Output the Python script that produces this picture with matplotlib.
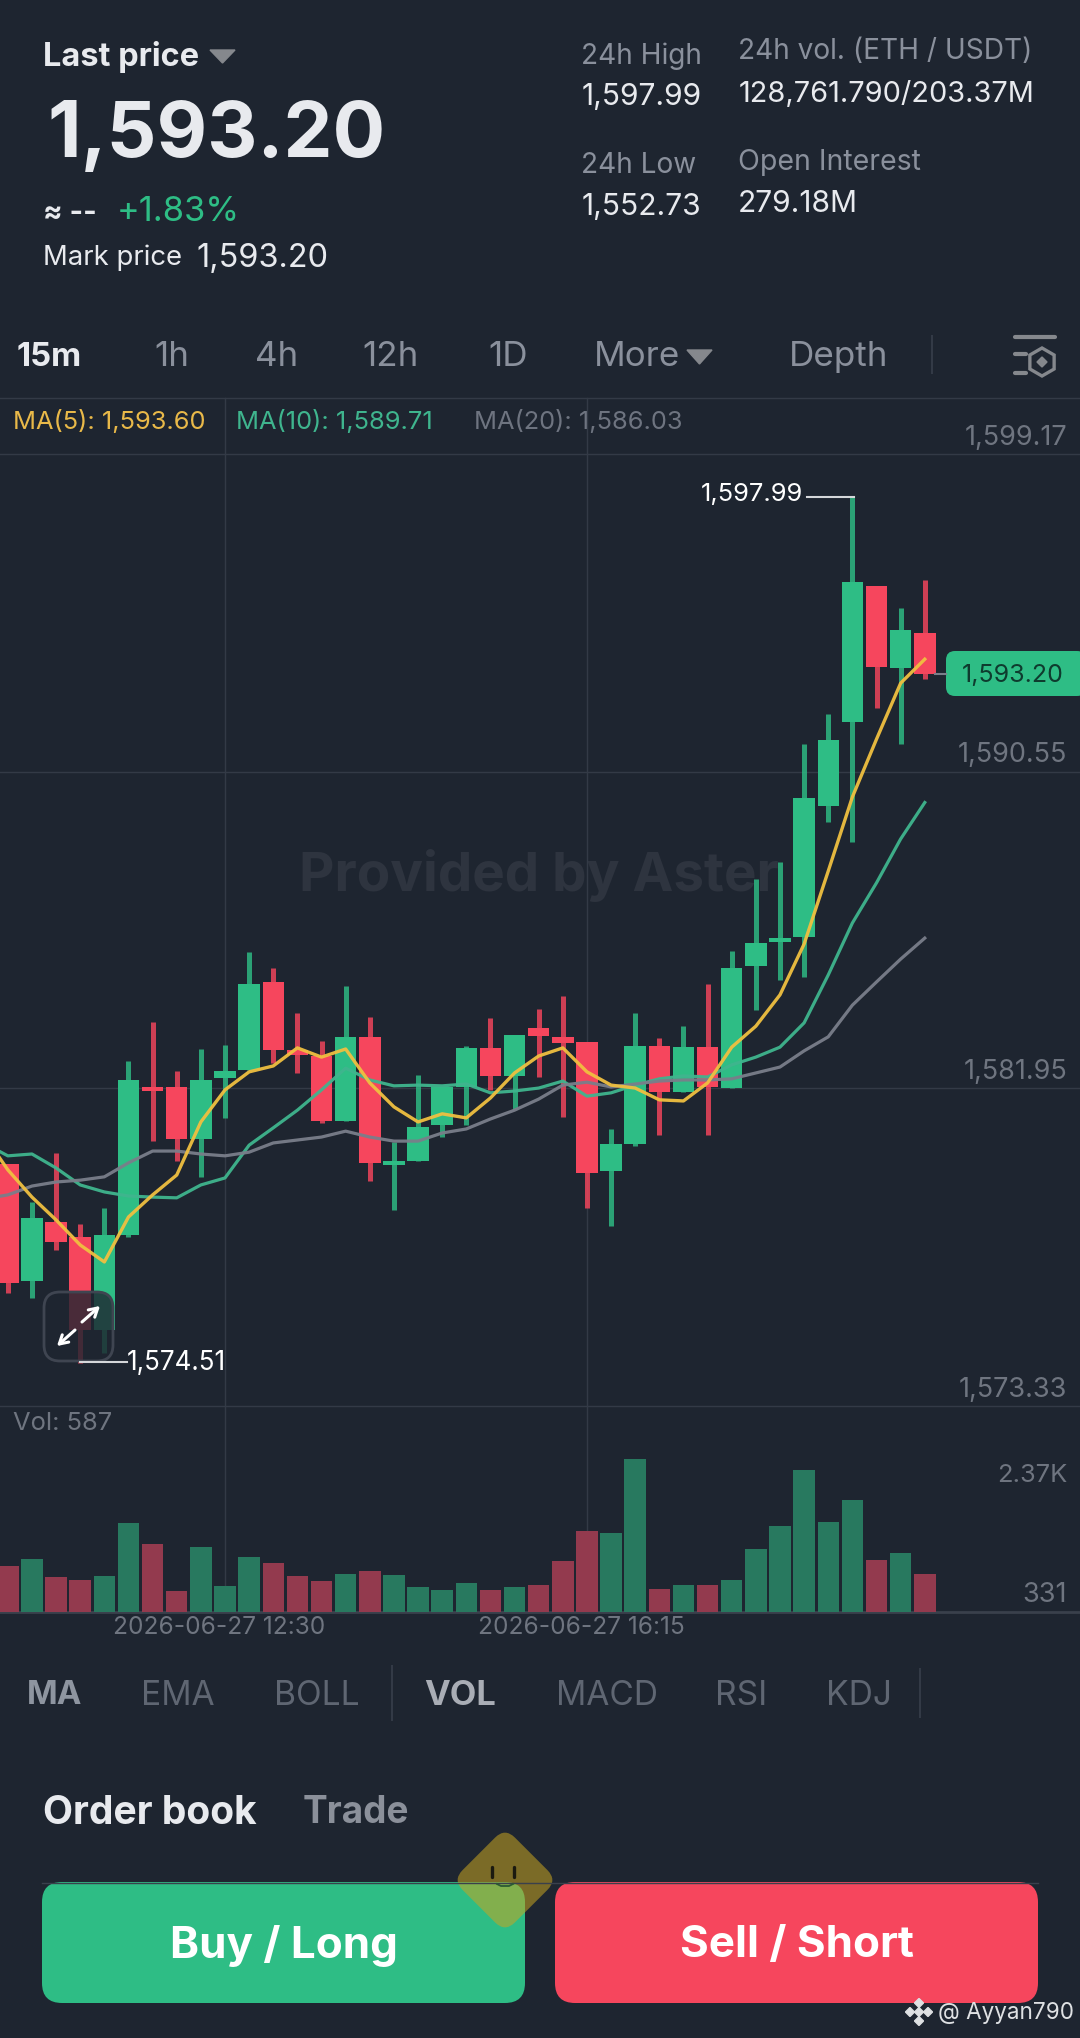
import matplotlib
matplotlib.use('Agg')
import matplotlib.pyplot as plt
from matplotlib.patches import FancyBboxPatch, Polygon, RegularPolygon
from matplotlib.transforms import Affine2D
import numpy as np

plt.rcParams['font.family'] = ['Inter', 'DejaVu Sans']

# candles, index 9 = 12:30 and index 24 = 16:15
opens = [1579.90, 1576.72, 1578.32, 1577.92, 1575.39, 1577.97, 1581.99, 1581.99, 1580.58, 1582.23,
         1582.45, 1584.84, 1582.99, 1582.83, 1581.07, 1583.35, 1579.87, 1579.98, 1580.96, 1581.99,
         1583.05, 1582.29, 1583.59, 1583.35, 1583.21, 1579.71, 1580.44, 1583.10, 1581.85, 1583.07,
         1581.96, 1585.27, 1585.92, 1586.06, 1589.62, 1591.90, 1595.59, 1593.36, 1594.31]
highs = [1579.90, 1578.87, 1580.20, 1578.27, 1578.70, 1582.69, 1583.75, 1582.42, 1583.02, 1583.13,
         1585.65, 1585.22, 1584.00, 1583.24, 1584.73, 1583.89, 1580.50, 1582.31, 1581.99, 1583.10,
         1583.86, 1583.40, 1584.11, 1584.46, 1583.21, 1580.85, 1584.00, 1583.32, 1583.64, 1584.78,
         1585.68, 1587.63, 1588.10, 1591.30, 1592.11, 1597.99, 1595.59, 1594.99, 1595.75]
lows = [1576.40, 1576.26, 1577.56, 1574.51, 1574.77, 1577.92, 1580.52, 1579.98, 1579.55, 1581.15,
        1582.45, 1582.64, 1582.37, 1581.01, 1581.07, 1579.44, 1578.65, 1579.98, 1580.63, 1580.96,
        1581.91, 1581.39, 1582.26, 1581.17, 1578.70, 1578.22, 1580.39, 1580.69, 1581.85, 1580.69,
        1581.96, 1584.08, 1584.89, 1584.97, 1589.18, 1588.64, 1592.28, 1591.30, 1593.06]
closes = [1576.67, 1578.43, 1577.78, 1575.39, 1577.97, 1582.18, 1581.88, 1580.58, 1582.18, 1582.42,
          1584.78, 1582.99, 1582.86, 1581.07, 1583.35, 1579.93, 1579.98, 1580.90, 1581.99, 1583.05,
          1582.29, 1583.40, 1583.37, 1583.18, 1579.65, 1580.44, 1583.10, 1581.85, 1583.07, 1581.99,
          1585.22, 1585.90, 1586.03, 1589.83, 1591.41, 1595.70, 1593.39, 1594.39, 1593.20]
volumes = [708, 817, 538, 491, 558, 1375, 1050, 331, 1013, 408,
           848, 755, 558, 486, 584, 636, 579, 393, 336, 450,
           341, 388, 414, 791, 1261, 1230, 2370, 362, 414, 414,
           491, 982, 1329, 2197, 1401, 1742, 801, 910, 587]

# moving averages start one candle before the first visible one
ma5 = [1580.69, 1579.74, 1579.00, 1578.38, 1577.70, 1577.24, 1578.46, 1579.06, 1579.60, 1581.04, 1581.91,
       1582.40, 1582.56, 1583.05, 1582.80, 1583.02, 1582.10, 1581.45, 1581.04, 1581.26, 1581.15,
       1581.69, 1582.37, 1582.83, 1583.05, 1582.40, 1582.04, 1581.96, 1581.64, 1581.61, 1582.10,
       1583.07, 1583.64, 1584.49, 1585.87, 1587.85, 1589.86, 1591.43, 1592.95, 1593.60]
ma10 = [1580.47, 1580.12, 1580.17, 1579.79, 1579.33, 1579.14, 1579.03, 1579.00, 1578.98, 1579.33, 1579.52,
        1580.41, 1580.88, 1581.36, 1581.91, 1582.50, 1582.18, 1582.02, 1582.04, 1582.02, 1582.07,
        1581.83, 1581.88, 1581.96, 1582.15, 1581.74, 1581.83, 1582.04, 1582.21, 1582.29, 1582.26,
        1582.59, 1582.80, 1583.07, 1583.73, 1585.03, 1586.44, 1587.53, 1588.72, 1589.71]
ma20 = [1578.95, 1579.06, 1579.30, 1579.41, 1579.46, 1579.55, 1579.93, 1580.25, 1580.25, 1580.17, 1580.12,
        1580.22, 1580.47, 1580.55, 1580.63, 1580.79, 1580.63, 1580.52, 1580.52, 1580.74, 1580.85,
        1581.12, 1581.36, 1581.66, 1582.04, 1582.12, 1581.99, 1582.07, 1582.15, 1582.18, 1582.18,
        1582.21, 1582.37, 1582.53, 1582.97, 1583.35, 1584.21, 1584.84, 1585.46, 1586.03]

price_grid = [1599.17, 1590.55, 1581.95, 1573.33]
price_labels = ['1,599.17', '1,590.55', '1,581.95', '1,573.33']
time_ticks = [9, 24]
time_labels = ['2026-06-27 12:30', '2026-06-27 16:15']

BG = '#1e2530'
GREEN = '#2ebd85'
RED = '#f6465d'
GRID = '#333a46'
W, H = 1080, 2038


def pt(px):
    # alturas en pixeles a puntos (dpi 100)
    return px * 0.72


def box(top, bottom):
    return [0, 1 - bottom / H, 1, (bottom - top) / H]


fig = plt.figure(figsize=(W / 100, H / 100), dpi=100, facecolor=BG)

# capa de fondo con los textos de la interfaz, en pixeles
ui = fig.add_axes([0, 0, 1, 1], zorder=0)
ui.set_xlim(0, W)
ui.set_ylim(H, 0)
ui.axis('off')


def label(x, y, s, size, color, weight='normal', ha='left', axes=None):
    (axes or ui).text(x, y + 2, s, fontsize=pt(size), color=color, fontweight=weight, ha=ha, va='center')


LIGHT = '#e8eaee'
MUTED = '#8a909c'

label(43, 55, 'Last price', 32.5, LIGHT, 'bold')
ui.add_patch(Polygon([(210, 50), (235, 50), (222.5, 63)], color='#85888d'))
label(47, 134, '1,593.20', 78, LIGHT, 'bold')
label(43, 211, '≈ --', 29, LIGHT, 'bold')
label(117, 210, '+1.83%', 34.5, GREEN)
label(43, 256, 'Mark price', 27.5, LIGHT)
label(196, 256, '1,593.20', 32.5, LIGHT)

label(581, 54, '24h High', 28, MUTED)
label(582, 95, '1,597.99', 30, LIGHT)
label(581, 163, '24h Low', 28, MUTED)
label(582, 205, '1,552.73', 30, LIGHT)
label(738, 49, '24h vol. (ETH / USDT)', 28, MUTED)
label(739, 92, '128,761.790/203.37M', 29, LIGHT)
label(738, 160, 'Open Interest', 28.5, MUTED)
label(738, 202, '279.18M', 30, LIGHT)

# pestanas de intervalo
label(17, 355, '15m', 33, LIGHT, 'bold')
for x, s in [(154, '1h'), (255, '4h'), (362, '12h'), (488, '1D'), (594, 'More'), (789, 'Depth')]:
    label(x, 355, s, 35, MUTED)
ui.add_patch(Polygon([(687, 350), (712, 350), (699.5, 364)], color='#85888d'))
ui.plot([932, 932], [336, 373], color=GRID, lw=1.5)

# icono de ajustes
ICON = '#85888d'
ui.plot([1015, 1055], [337, 337], color=ICON, lw=3, solid_capstyle='round')
ui.plot([1015, 1026], [354, 354], color=ICON, lw=3, solid_capstyle='round')
ui.plot([1015, 1026], [373, 373], color=ICON, lw=3, solid_capstyle='round')
ui.add_patch(RegularPolygon((1042, 362), 6, radius=14, fill=False, ec=ICON, lw=2.4))
ui.add_patch(RegularPolygon((1042, 362), 4, radius=5, color=ICON))

ui.plot([0, W], [398, 398], color=GRID, lw=1)

label(13, 420, 'MA(5): 1,593.60', 25.4, '#e9b949')
label(236, 420, 'MA(10): 1,589.71', 25.4, '#3fb58e')
label(474, 420, 'MA(20): 1,586.03', 25.4, '#6e7480')

# marca de agua detras de las velas
label(539, 873, 'Provided by Aster', 54.7, '#2e343f', 'bold', ha='center')

# indicadores abajo
label(27, 1694, 'MA', 33, '#8e95a0', 'bold')
for x, s in [(141, 'EMA'), (274, 'BOLL'), (556, 'MACD'), (715, 'RSI'), (826, 'KDJ')]:
    label(x, 1694, s, 33.5, '#5f6672')
label(424, 1694, 'VOL', 34.5, '#a9adb5', 'bold')
ui.plot([392, 392], [1666, 1720], color=GRID, lw=1.5)
ui.plot([920, 920], [1669, 1717], color=GRID, lw=1.5)

label(43, 1811, 'Order book', 39, LIGHT, 'bold')
label(303, 1811, 'Trade', 37, '#8b909a', 'bold')

# panel de velas
xlim = (9 - 225 / 24.13, 9 + 855 / 24.13)
ax = fig.add_axes(box(454, 1406), zorder=1)
ax.set_xlim(xlim)
ax.set_ylim(price_grid[-1], price_grid[0])
ax.patch.set_alpha(0)
ax.axis('off')

idx = np.arange(len(opens))
opens = np.array(opens)
closes = np.array(closes)
colors = [GREEN if c >= o else RED for o, c in zip(opens, closes)]

for p in price_grid:
    ax.axhline(p, color=GRID, lw=1, zorder=1, clip_on=False)
for t in time_ticks:
    ax.axvline(t, ymin=0, ymax=1 + 56 / 952, color=GRID, lw=1, zorder=1, clip_on=False)

ax.vlines(idx, lows, highs, colors=colors, lw=pt(5), alpha=0.82, zorder=2)
ax.bar(idx, closes - opens, bottom=opens, width=21.5 / 24.13, color=colors, zorder=3)

ma_x = np.arange(-1, len(opens))
ax.plot(ma_x, ma10, color='#3fb58e', lw=2.3, alpha=0.95, zorder=4)
ax.plot(ma_x, ma20, color='#7a7e8a', lw=2.3, alpha=0.95, zorder=5)
ax.plot(ma_x, ma5, color='#f0c040', lw=2.4, alpha=0.95, zorder=6)

# panel de volumen
vol = fig.add_axes(box(1406, 1612), zorder=1)
vol.set_xlim(xlim)
vol.set_ylim(0, 206 * 15.51)
vol.patch.set_alpha(0)
vol.axis('off')
vol_colors = ['#28795f' if c == GREEN else '#933a4e' for c in colors]
for t in time_ticks:
    vol.axvline(t, color=GRID, lw=1, zorder=1)
vol.bar(idx, volumes, width=21.5 / 24.13, color=vol_colors, zorder=3)
vol.axhline(0, color='#3a404c', lw=2, zorder=2, clip_on=False)

for t, s in zip(time_ticks, time_labels):
    vol.annotate(s, xy=(t, 0), xytext=(-4.3, -11.5), textcoords='offset points', ha='center', va='center',
                 fontsize=pt(24.5), color='#6f7580', annotation_clip=False)

# capa superior: etiquetas de precio, boton de zoom, botones
top = fig.add_axes([0, 0, 1, 1], zorder=2)
top.set_xlim(0, W)
top.set_ylim(H, 0)
top.axis('off')
top.patch.set_alpha(0)

for y, s in zip([436, 753, 1070, 1388], price_labels):
    label(1067, y, s, 27, '#6f7580', ha='right', axes=top)
label(1067, 1473, '2.37K', 25.5, '#6f7580', ha='right', axes=top)
label(1067, 1593, '331', 27, '#6f7580', ha='right', axes=top)
label(13, 1421, 'Vol: 587', 25.5, '#6f7580', axes=top)

label(803, 492, '1,597.99', 25.5, 'white', ha='right', axes=top)
top.plot([807, 854], [497, 497], color='#d5d7da', lw=1.5)
label(127, 1361, '1,574.51', 26, 'white', axes=top)
top.plot([80, 127], [1362, 1362], color='#d5d7da', lw=1.5)

top.plot([935, 946], [674, 674], color='#7a7e8a', lw=1.5)
top.add_patch(FancyBboxPatch((946, 651), 140, 45, boxstyle='round,pad=0,rounding_size=9', fc=GREEN, ec='none'))
label(962, 673, '1,593.20', 25, '#0e3b2e', axes=top)

top.add_patch(FancyBboxPatch((44, 1292), 69, 69, boxstyle='round,pad=0,rounding_size=16',
                             fc=BG, alpha=0.8, ec='none'))
top.add_patch(FancyBboxPatch((44, 1292), 69, 69, boxstyle='round,pad=0,rounding_size=16',
                             fc='none', ec='#3f4551', lw=2))
top.annotate('', xy=(100, 1306), xytext=(82, 1322),
             arrowprops=dict(arrowstyle='->,head_length=0.6,head_width=0.35', color='white', lw=2.2, shrinkA=0, shrinkB=0))
top.annotate('', xy=(57, 1346), xytext=(75, 1330),
             arrowprops=dict(arrowstyle='->,head_length=0.6,head_width=0.35', color='white', lw=2.2, shrinkA=0, shrinkB=0))

top.plot([42, 1038], [1883, 1883], color='#3a404c', lw=1)
top.add_patch(FancyBboxPatch((42, 1882), 483, 121, boxstyle='round,pad=0,rounding_size=20', fc=GREEN, ec='none'))
top.add_patch(FancyBboxPatch((555, 1882), 483, 121, boxstyle='round,pad=0,rounding_size=20', fc=RED, ec='none'))
label(284, 1944, 'Buy / Long', 44, 'white', 'bold', ha='center', axes=top)
label(797, 1944, 'Sell / Short', 44, 'white', 'bold', ha='center', axes=top)

# mascota sobre el boton
mascot = FancyBboxPatch((505 - 37, 1880 - 37), 74, 74, boxstyle='round,pad=0,rounding_size=14',
                        fc='#c8a520', ec='none', alpha=0.55)
mascot.set_transform(Affine2D().rotate_deg_around(505, 1880, 45) + top.transData)
top.add_patch(mascot)
top.plot([492, 492], [1867, 1877], color='#1b1a10', lw=2.4, solid_capstyle='round')
top.plot([514, 514], [1867, 1877], color='#1b1a10', lw=2.4, solid_capstyle='round')
top.plot([497, 501, 509, 513], [1884, 1886, 1886, 1884], color='#2b5a33', lw=1.3)

# firma
LOGO = '#dfe1e3'
for dx, dy in [(0, 0), (-9, 0), (9, 0), (0, -9), (0, 9)]:
    top.add_patch(RegularPolygon((919 + dx, 2012 + dy), 4, radius=4.5, color=LOGO))
label(938, 2011, '@ Ayyan790', 22.5, LOGO, axes=top)

fig.savefig('out.png', dpi=100, facecolor=BG)
